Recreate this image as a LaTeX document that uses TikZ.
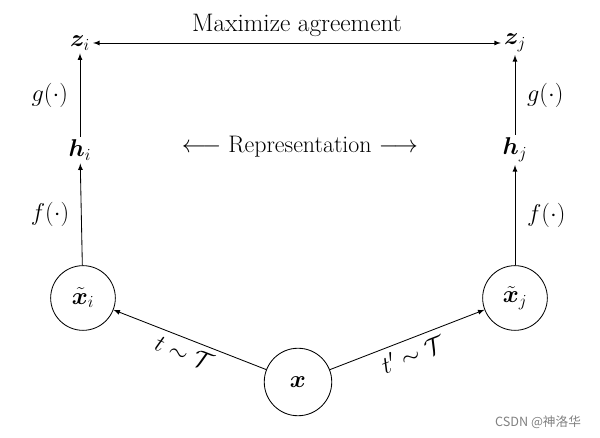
\documentclass[tikz,border=0pt]{standalone}
\usepackage{fontspec}
\usepackage{amsmath,amssymb,bm}
\newfontfamily\cjk{Noto Sans CJK SC}
\usetikzlibrary{arrows}

\begin{document}
\begin{tikzpicture}[->,>=latex,x=0.025cm,y=-0.025cm,semithick,
		font=\fontsize{17}{20}\selectfont,
		main node/.style={circle,draw,minimum size=60pt,inner sep=0pt},
		vec node/.style={inner sep=2pt},
		lbl node/.style={inner sep=0pt}]
	\useasboundingbox (0,0) rectangle (600,438);
	\node[vec node] (zi) at (80,43) {$\bm{z}_i$};
	\node[vec node] (zj) at (515,43) {$\bm{z}_j$};
	\node[vec node] (hi) at (80,150) {$\bm{h}_i$};
	\node[vec node] (hj) at (515,150) {$\bm{h}_j$};
	\node[main node,minimum size=46pt] (xi) at (83,298) {$\tilde{\bm{x}}_i$};
	\node[main node,minimum size=46pt] (xj) at (515,298) {$\tilde{\bm{x}}_j$};
	\node[main node,minimum size=48pt] (x) at (298,382) {$\bm{x}$};
	%
	% Agreement between the two projections.
	\draw[<->] (zi) -- node[above=1pt,font=\fontsize{18}{20}\selectfont] {Maximize agreement} (zj);
	\node[lbl node] (rep) at (300,147) {$\longleftarrow$ Representation $\longrightarrow$};
	%
	% Encoder and projection head.
	\draw (hi) -- node[left=5pt] {$g(\cdot)$} (zi);
	\draw (hj) -- node[right=5pt] {$g(\cdot)$} (zj);
	\draw (xi) -- node[left=5pt] {$f(\cdot)$} (hi);
	\draw (xj) -- node[right=5pt] {$f(\cdot)$} (hj);
	%
	% Augmentations.
	\draw (x) -- node[below,sloped,lbl node,yshift=-4pt] {$t\sim\mathcal{T}$} (xi);
	\draw (x) -- node[below,sloped,lbl node,yshift=-4pt] {$t'\sim\mathcal{T}$} (xj);
	\node[lbl node,text=gray,font=\cjk\fontsize{9}{10}\selectfont] (wm) at (538,422) {CSDN @神洛华};
\end{tikzpicture}
\end{document}
